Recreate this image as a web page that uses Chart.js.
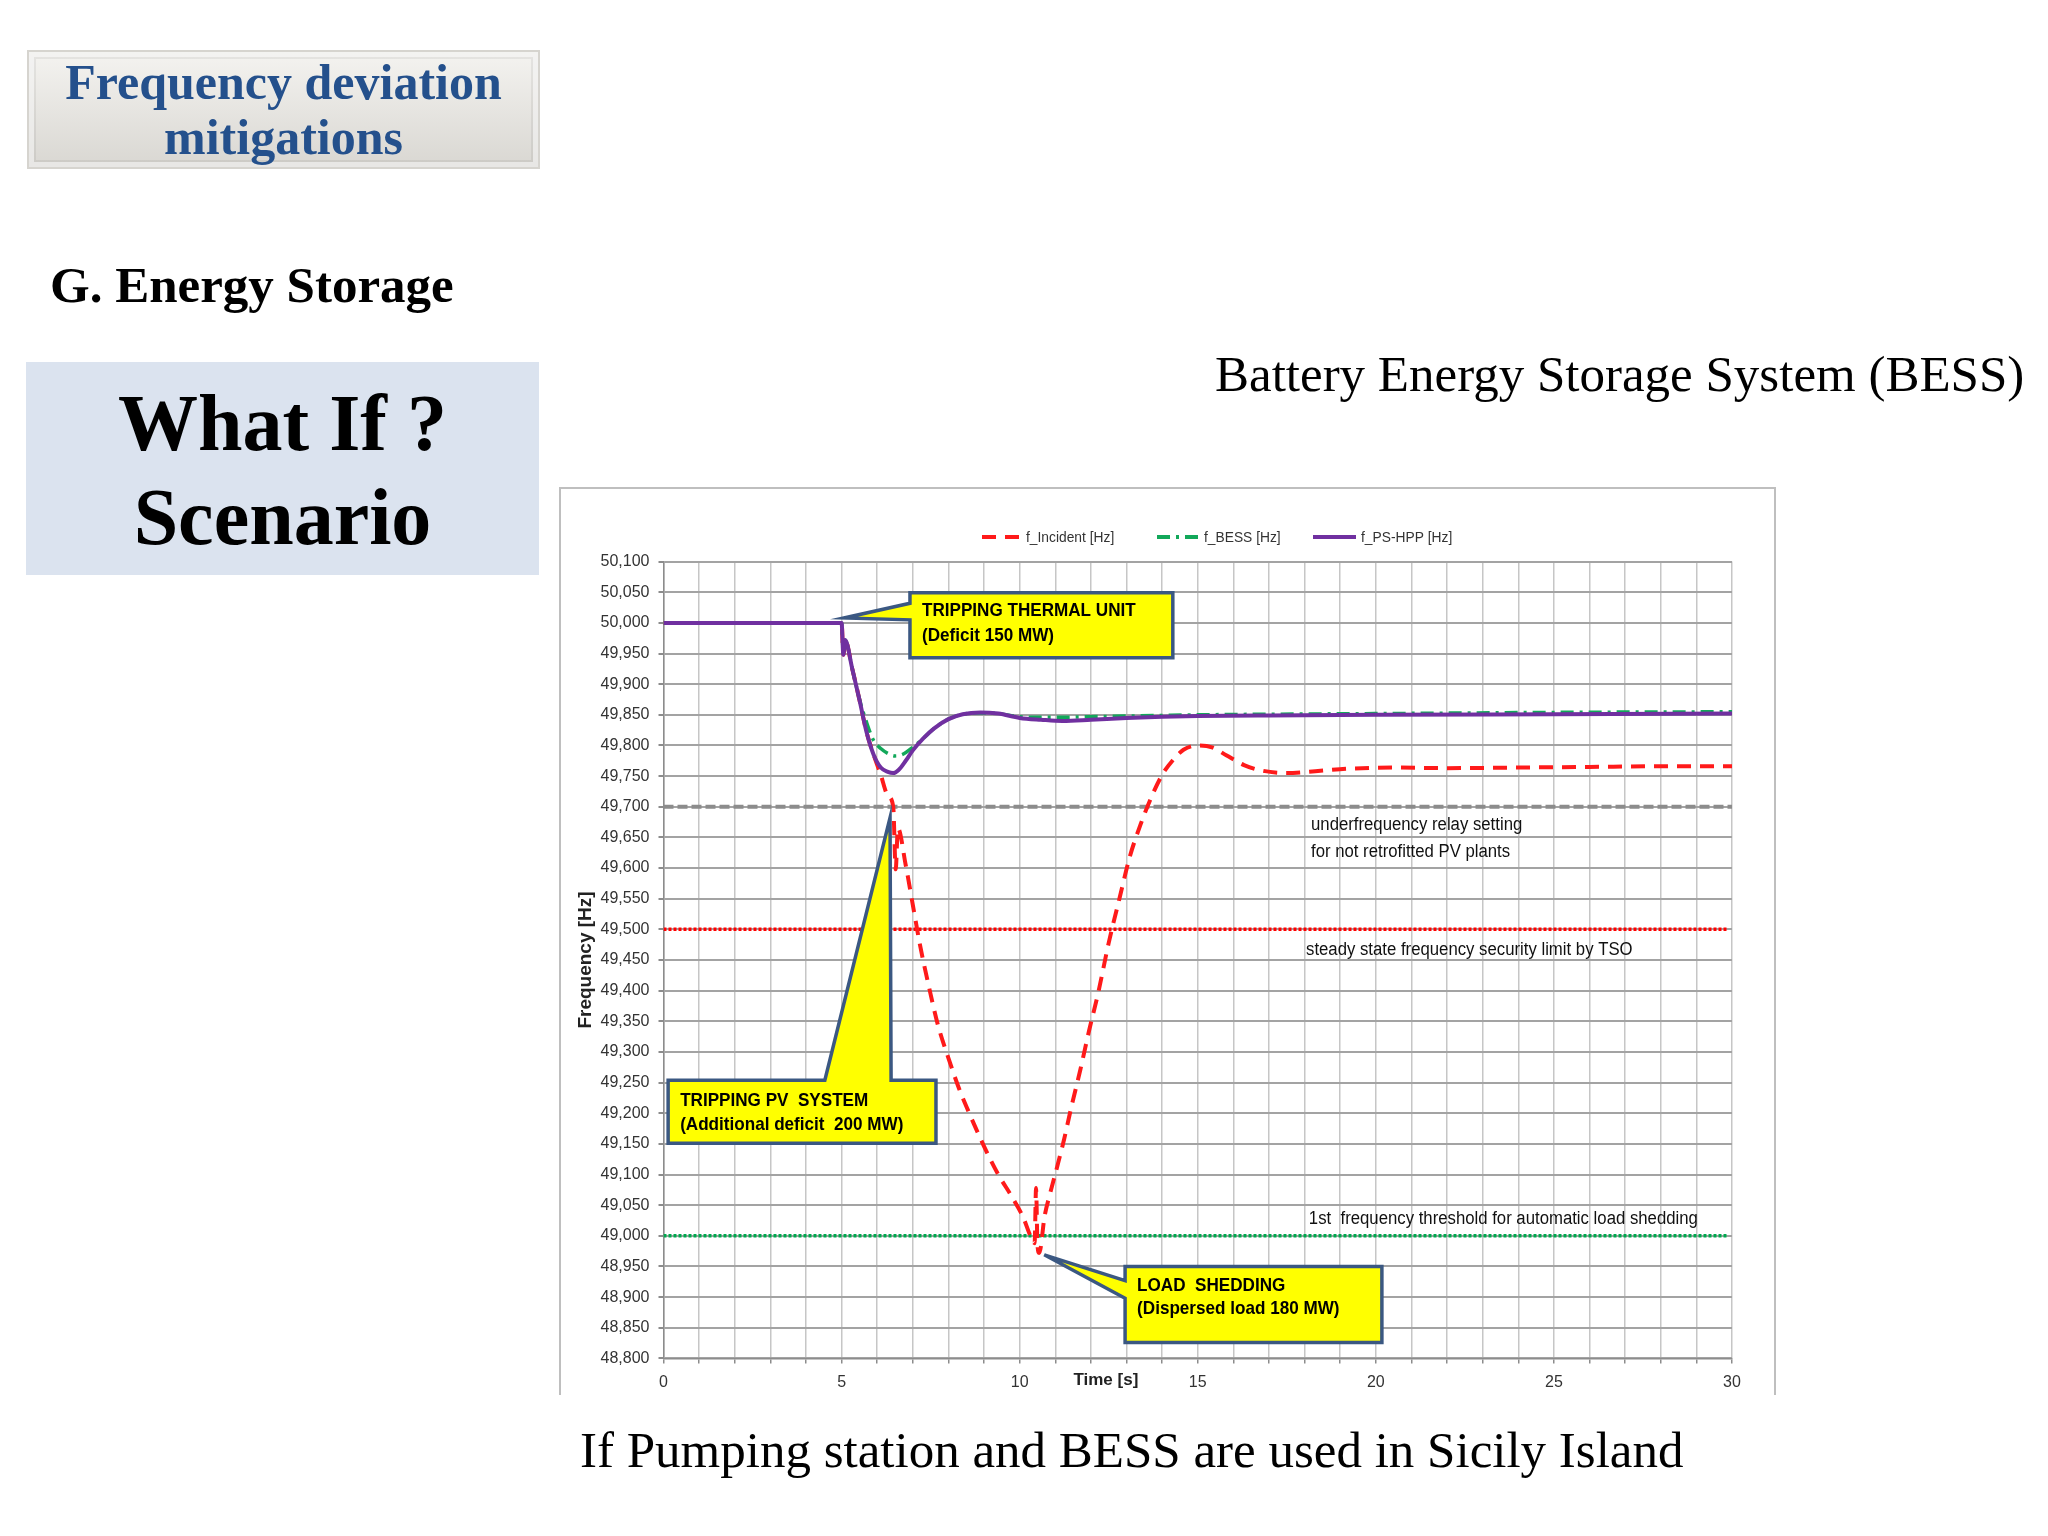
<!DOCTYPE html>
<html>
<head>
<meta charset="utf-8">
<script src="https://cdn.jsdelivr.net/npm/chart.js@4.4.1/dist/chart.umd.min.js"></script>
<style>
body { margin:0; background:#fff; }
#page { position:relative; width:2048px; height:1536px; overflow:hidden; font-family:"Liberation Serif","Times New Roman",serif; }
.abs { position:absolute; white-space:nowrap; }
#hdr { left:29px; top:52px; width:509px; height:115px; box-sizing:border-box; padding-top:3px;
  background:linear-gradient(#f4f3f0,#d9d7d2); box-shadow:inset 0 0 0 5px rgba(255,255,255,.55), inset 0 0 0 7px rgba(0,0,0,.06), 0 0 0 2px #d6d4cf;
  color:#24508c; font-weight:bold; font-size:50px; line-height:55px; text-align:center; }
#sub { left:50px; top:255px; font-size:51px; font-weight:bold; line-height:60px; color:#000; }
#whatif { left:26px; top:362px; width:513px; height:213px; box-sizing:border-box; padding-top:14px; background:#dbe3ef;
  font-size:80px; font-weight:bold; line-height:94px; text-align:center; color:#000; }
#bess { left:1215px; top:344px; font-size:51px; line-height:60px; color:#000; }
#foot { left:580px; top:1420px; font-size:51px; line-height:60px; color:#000; }
#frame { left:559px; top:487px; width:1217px; height:908px; box-sizing:border-box; border:2px solid #bfbfbf; border-bottom:none; }
#wrap { left:561px; top:489px; width:1213px; height:905px; }
</style>
</head>
<body>
<div id="page">
  <div id="hdr" class="abs">Frequency deviation<br>mitigations</div>
  <div id="sub" class="abs">G. Energy Storage</div>
  <div id="whatif" class="abs">What If ?<br>Scenario</div>
  <div id="bess" class="abs">Battery Energy Storage System (BESS)</div>
  <div id="frame" class="abs"></div>
  <div id="wrap" class="abs"><canvas id="canvas" width="1213" height="905"></canvas></div>
  <div id="foot" class="abs">If Pumping station and BESS are used in Sicily Island</div>
</div>
<script>
// time [s] and frequency [Hz]
var timeIncident = [0, 5.0, 5.05, 5.1, 5.3, 5.5, 5.7, 5.9, 6.1, 6.3, 6.45, 6.52, 6.58, 6.8, 7.0, 7.2, 7.45, 7.7, 8.0, 8.3, 8.6, 9.0, 9.4, 9.8, 10.1, 10.3, 10.42, 10.46, 10.5, 10.55, 10.7, 10.85, 11.05, 11.25, 11.45, 11.7, 11.95, 12.2, 12.5, 12.8, 13.1, 13.4, 13.7, 14.0, 14.3, 14.6, 15.0, 15.4, 15.8, 16.3, 16.8, 17.5, 18.3, 19.2, 20.5, 22, 24, 26, 28, 30];
var freqIncident = [50.000, 50.000, 49.948, 49.972, 49.925, 49.875, 49.822, 49.785, 49.752, 49.718, 49.700, 49.598, 49.665, 49.605, 49.540, 49.475, 49.407, 49.345, 49.290, 49.240, 49.198, 49.146, 49.100, 49.062, 49.030, 49.000, 48.988, 49.078, 48.985, 48.972, 49.032, 49.068, 49.112, 49.158, 49.210, 49.270, 49.335, 49.395, 49.478, 49.550, 49.620, 49.672, 49.716, 49.752, 49.776, 49.793, 49.800, 49.797, 49.784, 49.768, 49.759, 49.755, 49.758, 49.762, 49.764, 49.763, 49.764, 49.765, 49.766, 49.766];

var timeBess = [0, 5.0, 5.05, 5.1, 5.3, 5.5, 5.7, 5.9, 6.1, 6.3, 6.5, 6.7, 7.0, 7.3, 7.6, 8.0, 8.4, 8.9, 9.4, 10.0, 10.6, 11.2, 12.0, 13.0, 15.0, 17.0, 20.0, 25.0, 30.0];
var freqBess = [50.000, 50.000, 49.948, 49.972, 49.925, 49.876, 49.838, 49.808, 49.795, 49.787, 49.783, 49.785, 49.797, 49.812, 49.828, 49.843, 49.851, 49.853, 49.852, 49.847, 49.846, 49.846, 49.847, 49.848, 49.850, 49.851, 49.852, 49.854, 49.855];

var timePsHpp = [0, 5.0, 5.05, 5.1, 5.3, 5.5, 5.7, 5.9, 6.1, 6.3, 6.45, 6.6, 6.8, 7.0, 7.3, 7.6, 8.0, 8.4, 8.9, 9.4, 10.0, 10.6, 11.2, 12.0, 13.0, 14.0, 15.0, 17.0, 20.0, 25.0, 30.0];
var freqPsHpp = [50.000, 50.000, 49.948, 49.972, 49.925, 49.875, 49.822, 49.785, 49.764, 49.757, 49.755, 49.760, 49.775, 49.792, 49.812, 49.828, 49.843, 49.851, 49.854, 49.852, 49.845, 49.842, 49.840, 49.842, 49.845, 49.847, 49.848, 49.849, 49.850, 49.851, 49.852];

// threshold lines
var relayLevel = 49.7;
var tsoLevel = 49.5;
var sheddingLevel = 49.0;

var seriesNames = ['f_Incident [Hz]', 'f_BESS [Hz]', 'f_PS-HPP [Hz]'];
var yMin = 48.8, yMax = 50.1, yStep = 0.05;
var xMin = 0, xMax = 30;

var narrow = "'Liberation Sans Narrow', 'Arial Narrow', 'Liberation Sans', sans-serif";
Chart.defaults.font.family = narrow;
Chart.defaults.color = '#333';

function pts(t, f) {
  return t.map(function (v, i) { return {x: v, y: f[i]}; });
}

// squeeze text a little so it looks like the narrow office font
function squeezeText(ctx, text, x, y, sx) {
  ctx.save();
  ctx.translate(x, y);
  ctx.scale(sx, 1);
  ctx.fillText(text, 0, 0);
  ctx.restore();
}

var RED = '#ff1a1a', GREEN = '#12a85a', PURPLE = '#7030a0';
var dashRed = [14, 9], dashGreen = [13, 6, 3, 6];

// callouts: box in data units, pointer = base1, tip, base2, text rows as box fractions
var callouts = [
  {box: [6.92, 50.049, 14.30, 49.943], edge: 'left', ptr: [[6.92, 50.032], [5.07, 50.008], [6.92, 50.005]],
   rows: [0.27, 0.66], lines: ['TRIPPING THERMAL UNIT', '(Deficit 150 MW)']},
  {box: [0.13, 49.254, 7.65, 49.151], edge: 'top', ptr: [[4.53, 49.254], [6.36, 49.682], [6.39, 49.254]],
   rows: [0.32, 0.70], lines: ['TRIPPING PV  SYSTEM', '(Additional deficit  200 MW)']},
  {box: [12.96, 48.950, 20.17, 48.826], edge: 'left', ptr: [[12.96, 48.927], [10.69, 48.969], [12.96, 48.898]],
   rows: [0.25, 0.56], lines: ['LOAD  SHEDDING', '(Dispersed load 180 MW)']}
];
var labels = [
  {t: 18.18, f: 49.670, text: 'underfrequency relay setting'},
  {t: 18.18, f: 49.626, text: 'for not retrofitted PV plants'},
  {t: 18.04, f: 49.466, text: 'steady state frequency security limit by TSO'},
  {t: 18.12, f: 49.027, text: '1st  frequency threshold for automatic load shedding'}
];

var notes = {
  id: 'notes',
  afterDatasetsDraw: function (chart) {
    var ctx = chart.ctx, x = chart.scales.x, y = chart.scales.y;
    ctx.save();
    // text labels on the grid
    ctx.font = '18px ' + narrow;
    ctx.fillStyle = '#111';
    ctx.textBaseline = 'middle';
    labels.forEach(function (l) {
      squeezeText(ctx, l.text, x.getPixelForValue(l.t), y.getPixelForValue(l.f), 0.93);
    });
    // callouts
    callouts.forEach(function (c) {
      var x1 = x.getPixelForValue(c.box[0]), y1 = y.getPixelForValue(c.box[1]);
      var x2 = x.getPixelForValue(c.box[2]), y2 = y.getPixelForValue(c.box[3]);
      var p = c.ptr.map(function (q) { return [x.getPixelForValue(q[0]), y.getPixelForValue(q[1])]; });
      ctx.beginPath();
      if (c.edge == 'left') {
        ctx.moveTo(x1, y1); ctx.lineTo(x2, y1); ctx.lineTo(x2, y2); ctx.lineTo(x1, y2);
        ctx.lineTo(p[2][0], p[2][1]); ctx.lineTo(p[1][0], p[1][1]); ctx.lineTo(p[0][0], p[0][1]);
      } else {
        ctx.moveTo(x1, y1); ctx.lineTo(p[0][0], p[0][1]); ctx.lineTo(p[1][0], p[1][1]); ctx.lineTo(p[2][0], p[2][1]);
        ctx.lineTo(x2, y1); ctx.lineTo(x2, y2); ctx.lineTo(x1, y2);
      }
      ctx.closePath();
      ctx.fillStyle = '#ffff00';
      ctx.fill();
      ctx.lineWidth = 3.5;
      ctx.lineJoin = 'miter';
      ctx.strokeStyle = '#3b5882';
      ctx.stroke();
      ctx.fillStyle = '#000';
      ctx.font = 'bold 19px ' + narrow;
      var h = (y2 - y1);
      squeezeText(ctx, c.lines[0], x1 + 12, y1 + h * c.rows[0], 0.9);
      squeezeText(ctx, c.lines[1], x1 + 12, y1 + h * c.rows[1], 0.9);
    });
    ctx.restore();
  },
  afterDraw: function (chart) {
    var ctx = chart.ctx, x = chart.scales.x, area = chart.chartArea;
    ctx.save();
    // axis title inline with tick labels
    ctx.font = 'bold 17px ' + narrow;
    ctx.fillStyle = '#222';
    ctx.textAlign = 'center';
    ctx.textBaseline = 'middle';
    ctx.fillText('Time [s]', x.getPixelForValue(12.42), area.bottom + 22);
    // legend
    var items = [
      {x0: 421, x1: 460, color: RED, dash: dashRed, w: 4},
      {x0: 596, x1: 638, color: GREEN, dash: dashGreen, w: 4},
      {x0: 752, x1: 795, color: PURPLE, dash: [], w: 4}
    ];
    ctx.textAlign = 'left';
    ctx.font = '15px ' + narrow;
    items.forEach(function (it, i) {
      ctx.beginPath();
      ctx.setLineDash(it.dash);
      ctx.strokeStyle = it.color;
      ctx.lineWidth = it.w;
      ctx.moveTo(it.x0, 48); ctx.lineTo(it.x1, 48);
      ctx.stroke();
      ctx.setLineDash([]);
      ctx.fillStyle = '#333';
      squeezeText(ctx, seriesNames[i], it.x1 + 5, 49, 0.92);
    });
    ctx.restore();
  }
};

var ctx = document.getElementById('canvas');
window.myLine = new Chart(ctx, {
  type: 'line',
  data: {
    datasets: [
      {label: seriesNames[2], data: pts(timePsHpp, freqPsHpp), borderColor: PURPLE, borderWidth: 4, order: 1},
      {label: seriesNames[1], data: pts(timeBess, freqBess), borderColor: GREEN, borderWidth: 3.5, borderDash: dashGreen, order: 2},
      {label: seriesNames[0], data: pts(timeIncident, freqIncident), borderColor: RED, borderWidth: 4, borderDash: dashRed, order: 3},
      {label: 'relay', data: pts([xMin, xMax], [relayLevel, relayLevel]), borderColor: '#8c8c8c', borderWidth: 4, borderDash: [10, 4], order: 4},
      {label: 'tso', data: pts([xMin, 29.9], [tsoLevel, tsoLevel]), borderColor: '#ff0000', borderWidth: 3.5, borderDash: [3, 2], order: 4},
      {label: 'shed', data: pts([xMin, 29.9], [sheddingLevel, sheddingLevel]), borderColor: '#00a84f', borderWidth: 3.5, borderDash: [3, 2], order: 4}
    ]
  },
  options: {
    responsive: false,
    animation: false,
    elements: {point: {radius: 0}, line: {cubicInterpolationMode: 'monotone', fill: false, borderCapStyle: 'butt'}},
    layout: {padding: {top: 72.6, right: 42, left: 0, bottom: 0}},
    plugins: {legend: {display: false}, tooltip: {enabled: false}},
    scales: {
      x: {
        type: 'linear', min: xMin, max: xMax,
        afterFit: function (s) { s.height = 35.6; },
        grid: {color: '#c6c6c6', lineWidth: 1.5, tickLength: 5, tickColor: '#8c8c8c'},
        border: {color: '#8c8c8c', width: 1.5},
        ticks: {stepSize: 1, autoSkip: false, maxRotation: 0, padding: 10, color: '#333', font: {size: 16},
          callback: function (v) { return v % 5 === 0 ? v : ''; }}
      },
      y: {
        min: yMin, max: yMax,
        afterFit: function (s) { s.width = 102.5; },
        grid: {color: '#a3a3a3', lineWidth: 2, tickLength: 5, tickColor: '#8c8c8c'},
        border: {color: '#8c8c8c', width: 1.5},
        title: {display: true, text: 'Frequency [Hz]', color: '#222', font: {size: 19, weight: 'bold'}, padding: {top: 13}},
        ticks: {stepSize: yStep, padding: 9, color: '#333', font: {size: 16},
          callback: function (v) { return v.toFixed(3).replace('.', ','); }}
      }
    }
  },
  plugins: [notes]
});
</script>
</body>
</html>
